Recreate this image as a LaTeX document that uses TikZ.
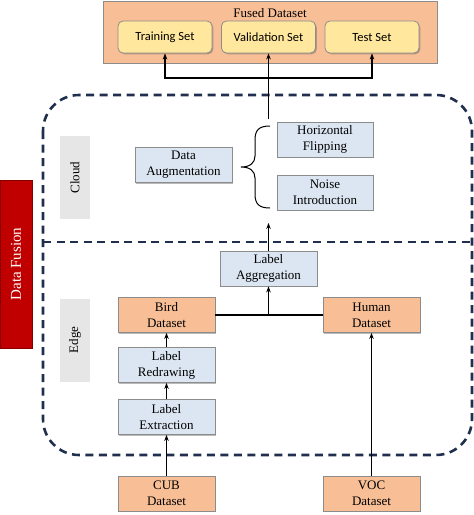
\documentclass[tikz,border=0pt]{standalone}
\usepackage{fontspec}
\setmainfont{Liberation Serif}
\newfontfamily\setfont{Carlito}
\usetikzlibrary{arrows.meta,shadows}
\definecolor{peach}{RGB}{248,191,150}
\definecolor{paleblue}{RGB}{220,230,242}
\definecolor{paleyellow}{RGB}{255,231,158}
\definecolor{navy}{RGB}{31,47,77}
\definecolor{fusionred}{RGB}{192,0,0}
\definecolor{sidegray}{RGB}{231,230,230}

\begin{document}
\begin{tikzpicture}[x=1pt,y=-1pt,
  box/.style={draw=black!45,line width=0.8pt,minimum width=97pt,minimum height=35pt,align=center,inner sep=1pt,
    font=\fontsize{13}{16}\selectfont,drop shadow={shadow xshift=1.3pt,shadow yshift=-1.3pt,fill=black!60,opacity=.45}},
  procbox/.style={box,fill=paleblue},
  databox/.style={box,fill=peach},
  setbox/.style={box,fill=paleyellow,rounded corners=5pt,minimum width=94pt,minimum height=32pt,font=\setfont\fontsize{12.5}{15}\selectfont},
  side/.style={fill=sidegray,rotate=90,minimum width=83pt,minimum height=30pt,inner sep=0pt,font=\fontsize{13}{16}\selectfont},
  zone/.style={navy,line width=2.6pt,dash pattern=on 8pt off 5.5pt},
  arr/.style={-{Stealth[length=6pt,width=4.5pt]},line width=1.3pt},
  link/.style={line width=1.3pt}]
      \useasboundingbox (0,0) rectangle (474,515);

      \draw[zone,rounded corners=36pt] (43,95) rectangle (472,455);
      \draw[zone] (43,242) -- (472,242);

      \draw (270,32) node[databox,minimum width=334pt,minimum height=62pt](fused) {};
      \draw (270,13) node[font=\fontsize{13}{16}\selectfont](fusedtitle) {Fused Dataset};
      \draw (165,37) node[setbox](train) {Training Set};
      \draw (268.5,37) node[setbox](valid) {Validation Set};
      \draw (372,37) node[setbox](test) {Test Set};

      \draw (16,264) node[fill=fusionred,draw=fusionred!70!black,text=white,rotate=90,minimum width=168pt,minimum height=32pt,
        font=\fontsize{15}{18}\selectfont,drop shadow={shadow xshift=1.3pt,shadow yshift=-1.3pt,fill=black!60,opacity=.45}](fusion) {Data Fusion};

      \draw (75,177.5) node[side](cloud) {Cloud};
      \draw (75,340) node[side](edge) {Edge};

      \draw (183.5,165) node[procbox](aug) {Data\\Augmentation};
      \draw (325,139.5) node[procbox,minimum width=96pt](flip) {Horizontal\\Flipping};
      \draw (325,192.5) node[procbox,minimum width=96pt](noise) {Noise\\Introduction};

      \draw (268.5,268.5) node[procbox](agg) {Label\\Aggregation};
      \draw (166.5,315) node[databox](bird) {Bird\\Dataset};
      \draw (371.5,315) node[databox](human) {Human\\Dataset};
      \draw (166.5,365) node[procbox](redraw) {Label\\Redrawing};
      \draw (166.5,417) node[procbox](extract) {Label\\Extraction};
      \draw (166.5,493.5) node[databox](cub) {CUB\\Dataset};
      \draw (371.5,493.5) node[databox](voc) {VOC\\Dataset};

      \draw[line width=1pt] (270,126) .. controls (259,126) and (255,130) .. (255,140) -- (255,156)
        .. controls (255,163) and (250,167) .. (241,167) .. controls (250,167) and (255,171) .. (255,178)
        -- (255,194) .. controls (255,204) and (259,208) .. (270,208);

      \coordinate (bracetop) at (268.5,119);
      \coordinate (junc) at (268.5,78);
      \coordinate (augin) at (268.5,223);

      \draw[arr] (bracetop) -- (valid);
      \draw[arr] (junc) -| (train);
      \draw[arr] (junc) -| (test);
      \draw[arr] (agg) -- (augin);
      \draw[link] (bird) -- (human);
      \draw[arr] (agg |- bird) -- (agg);
      \draw (redraw) edge[arr] (bird);
      \draw (extract) edge[arr] (redraw);
      \draw (cub) edge[arr] (extract);
      \draw (voc) edge[arr] (human);
\end{tikzpicture}
\end{document}
